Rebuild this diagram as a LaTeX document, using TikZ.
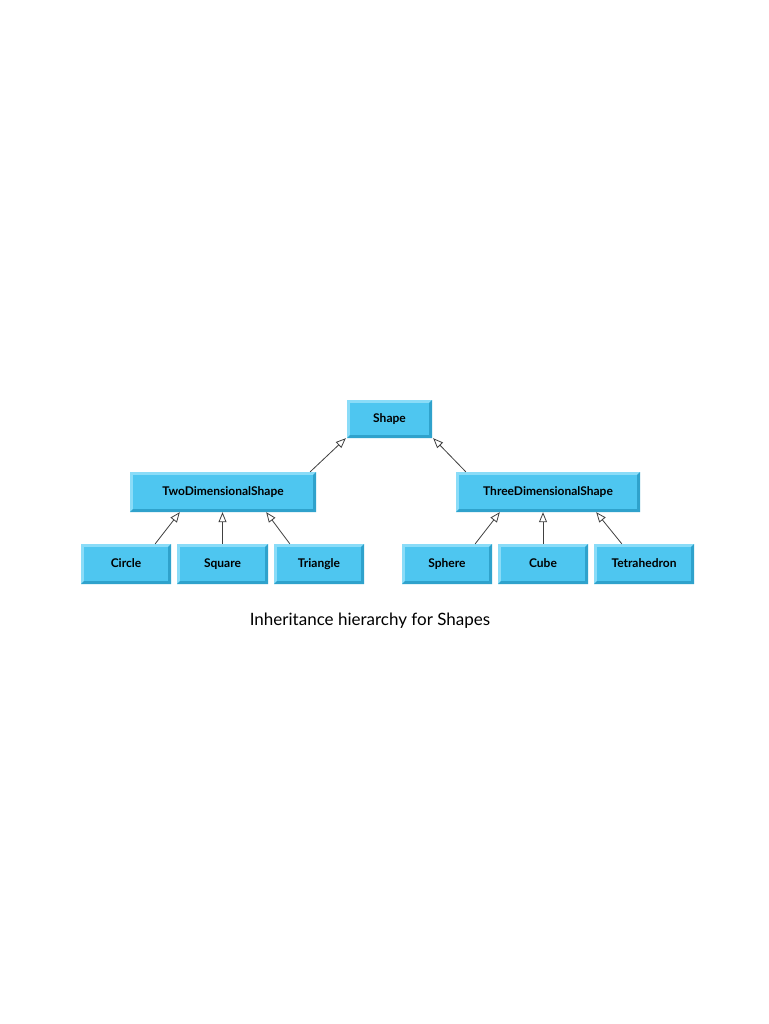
\documentclass[tikz,border=0pt]{standalone}
\usepackage{fontspec}
\setmainfont{Lato}
\usetikzlibrary{arrows.meta}
\definecolor{boxc}{HTML}{4EC6F0}
\definecolor{boxl}{HTML}{8ADCF8}
\definecolor{boxd}{HTML}{2FA2CC}
\begin{document}
\begin{tikzpicture}[x=1pt,y=-1pt,
  cls/.style={fill=boxc,inner sep=0pt,text height=8.5pt,text depth=2.5pt,font=\bfseries\fontsize{12}{14}\selectfont,
    path picture={
      \def\pb{path picture bounding box}
      \fill[boxl] (\pb.north west) -- (\pb.north east) -- ([xshift=-3pt,yshift=-3pt]\pb.north east) -- ([xshift=3pt,yshift=-3pt]\pb.north west) -- ([xshift=3pt,yshift=3pt]\pb.south west) -- (\pb.south west) -- cycle;
      \fill[boxd] (\pb.south east) -- (\pb.north east) -- ([xshift=-3pt,yshift=-3pt]\pb.north east) -- ([xshift=-3pt,yshift=3pt]\pb.south east) -- ([xshift=3pt,yshift=3pt]\pb.south west) -- (\pb.south west) -- cycle;
      \fill[boxc] ([xshift=3pt,yshift=-3pt]\pb.north west) rectangle ([xshift=-3pt,yshift=3pt]\pb.south east);
    }},
  inh/.style={draw=black!75,line width=0.8pt,-{Triangle[open,length=10pt,width=8pt]}}]
\useasboundingbox (0,0) rectangle (768,1024);
\fill[white] (0,0) rectangle (768,1024);
\newcommand\mkbox[6]{\node[cls,minimum width={#4-#2},minimum height={#5-#3}] (#1) at ({(#2+#4)/2},{(#3+#5)/2}) {#6};}
\mkbox{shape}{347}{400}{432}{438}{Shape}
\mkbox{two}{130}{472}{316}{512}{TwoDimensionalShape}
\mkbox{three}{456}{472}{640}{512}{ThreeDimensionalShape}
\mkbox{circle}{81}{544}{171}{584}{Circle}
\mkbox{square}{177}{544}{268}{584}{Square}
\mkbox{tri}{274}{544}{364}{584}{Triangle}
\mkbox{sphere}{402}{544}{492}{584}{Sphere}
\mkbox{cube}{498}{544}{588}{584}{Cube}
\mkbox{tetra}{594}{544}{694}{584}{Tetrahedron}
\draw[inh] ([xshift=-6pt]two.north east) -- ([xshift=-1pt]shape.south west);
\draw[inh] ([xshift=10pt]three.north west) -- ([xshift=1pt]shape.south east);
\draw[inh] ([xshift=-16pt]circle.north east) -- ([xshift=50pt]two.south west);
\draw[inh] (square.north) -- (square.north |- two.south);
\draw[inh] ([xshift=16pt]tri.north west) -- ([xshift=-50pt]two.south east);
\draw[inh] ([xshift=-17pt]sphere.north east) -- ([xshift=44pt]three.south west);
\draw[inh] (cube.north) -- (cube.north |- three.south);
\draw[inh] ([xshift=28pt]tetra.north west) -- ([xshift=-44pt]three.south east);
\node[font=\fontsize{17}{20}\selectfont] (cap) at (370,621) {Inheritance hierarchy for Shapes};
\end{tikzpicture}
\end{document}
